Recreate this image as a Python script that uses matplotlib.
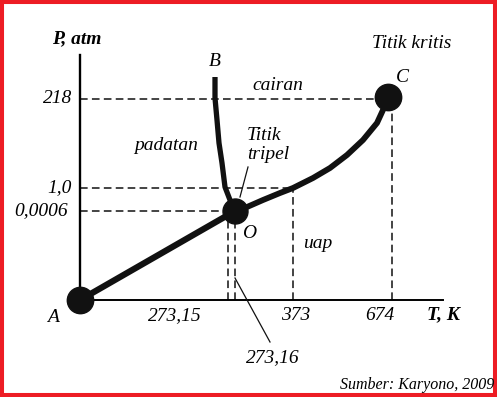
import matplotlib
matplotlib.use('Agg')
import matplotlib.pyplot as plt
from matplotlib.patches import Rectangle

plt.rcParams['font.family'] = ['Liberation Serif', 'DejaVu Serif']

# schematic positions (diagram is not to scale)
t_labels = ['273,15', '273,16', '373', '674']
t_pos = [148, 155, 212.5, 311.5]
p_labels = ['0,0006', '1,0', '218']
p_pos = [89, 112, 201.5]

# points A (origin), O (triple point), C (critical point)
pt_x = [0, 155, 308]
pt_y = [0, 89, 203]
pt_size = [19, 18, 19]

# melting curve O -> B
melt_x = [155, 150, 145, 142, 139, 137, 135, 135]
melt_y = [89, 100, 113, 137, 157, 180, 202, 223]
# vapour curve O -> C
vap_x = [155, 167, 183, 200, 213, 233, 250, 267, 283, 297, 303, 307, 308]
vap_y = [89, 93, 100, 107, 112, 122, 132, 145, 160, 177, 190, 200, 203]

fig = plt.figure(figsize=(4.97, 3.97), dpi=100)
ax = fig.add_axes([80/497, 97/397, 363/497, 245/397])
ax.set_xlim(0, 363)
ax.set_ylim(0, 245)
for s in ['top', 'right']:
    ax.spines[s].set_visible(False)
ax.spines['left'].set_linewidth(1.7)
ax.spines['bottom'].set_linewidth(1.4)
ax.set_xticks([])
ax.set_yticks([])

dash = dict(color='#111111', lw=1.1, dashes=(5, 2.8), zorder=2)
# horizontal guides
ax.plot([0, pt_x[2]], [p_pos[2], p_pos[2]], **dash)
ax.plot([0, t_pos[2]], [p_pos[1], p_pos[1]], **dash)
ax.plot([0, pt_x[1]], [p_pos[0], p_pos[0]], **dash)
# vertical guides
ax.plot([t_pos[0], t_pos[0]], [0, 80], **dash)
ax.plot([t_pos[1], t_pos[1]], [0, p_pos[0]], **dash)
ax.plot([t_pos[2], t_pos[2]], [0, p_pos[1]], **dash)
ax.plot([t_pos[3], t_pos[3]], [0, p_pos[2]], **dash)

# curves
ax.plot(pt_x[:2], pt_y[:2], color='#111111', lw=4.5, solid_capstyle='butt', zorder=3)
ax.plot(melt_x, melt_y, color='#111111', lw=3.8, solid_capstyle='butt',
        solid_joinstyle='round', zorder=3)
ax.plot(vap_x, vap_y, color='#111111', lw=4.2, solid_capstyle='butt',
        solid_joinstyle='round', zorder=3)
for x, y, s in zip(pt_x, pt_y, pt_size):
    ax.plot(x, y, 'o', ms=s, color='#111111', clip_on=False, zorder=4)

# leader lines
ax.plot([168, 160], [133, 103], color='#111111', lw=0.9, zorder=3)
ax.plot([155, 190], [22, -42], color='#111111', lw=0.9, clip_on=False, zorder=3)

txt = dict(fontsize=14, style='italic', ha='center', va='center', clip_on=False)
ax.text(-3, 261, 'P, atm', weight='bold', **txt)
ax.text(363, -15, 'T, K', weight='bold', **txt)
for lab, y in zip(p_labels, p_pos):
    ax.text(-8 if lab != '0,0006' else -12, y, lab,
            **{**txt, 'ha': 'right'})
ax.text(95, -16, t_labels[0], **txt)
ax.text(193, -58, t_labels[1], **txt)
ax.text(216, -15, t_labels[2], **txt)
ax.text(300, -15, t_labels[3], **txt)

ax.text(135, 238, 'B', **txt)
ax.text(322, 223, 'C', **txt)
ax.text(169, 67, 'O', **txt)
ax.text(-27, -18, 'A', **txt)
ax.text(86, 154, 'padatan', **txt)
ax.text(198, 214, 'cairan', **txt)
ax.text(332, 257, 'Titik kritis', **txt)
ax.text(167, 155, 'Titik\ntripel', linespacing=1.15, **{**txt, 'ha': 'left'})
ax.text(238, 57, 'uap', **txt)

fig.text(0.995, 1 - 385/397, 'Sumber: Karyono, 2009', fontsize=11.5,
         style='italic', ha='right', va='center')

fig.patches.append(Rectangle((0, 0), 1, 1, transform=fig.transFigure,
                             fill=False, edgecolor='#ed1c24', lw=5.8))

fig.savefig('out.png', dpi=100)
